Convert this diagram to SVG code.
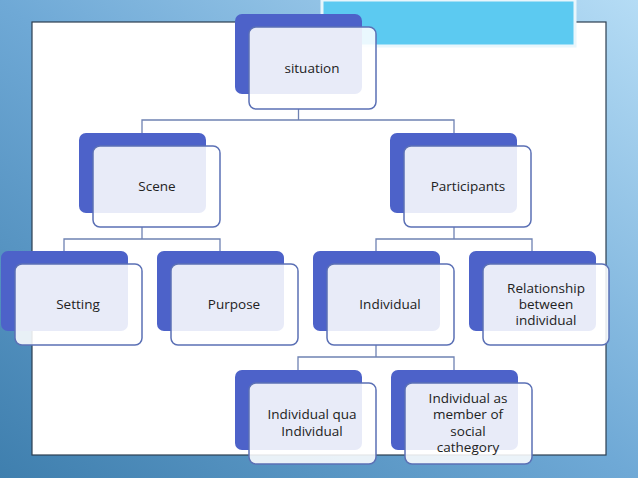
<svg xmlns="http://www.w3.org/2000/svg" width="638" height="478" viewBox="0 0 638 478">
<defs>
<linearGradient id="bg" x1="0" y1="1" x2="1" y2="0">
<stop offset="0" stop-color="#3f7fae"/>
<stop offset="0.5" stop-color="#6fa9d6"/>
<stop offset="1" stop-color="#b5dcf5"/>
</linearGradient>
<style>
.back{fill:#4d62c9}
.front{fill:#ffffff;fill-opacity:0.87;stroke:#5b70b5;stroke-width:1.5}
.t{font-family:"Open Sans","Liberation Sans",sans-serif;font-size:13.5px;fill:#222;text-anchor:middle}
.c{fill:none;stroke:#6f82b3;stroke-width:1.3}
</style>
</defs>
<rect width="638" height="478" fill="url(#bg)"/>
<rect x="32" y="22" width="574" height="433" fill="#fff" stroke="#2c3e50" stroke-width="1.2"/>
<rect x="322" y="0" width="253" height="46" fill="#5ccaf1" stroke="#e8f6fc" stroke-width="3"/>
<g id="connectors" class="c">
<path d="M298.5 109V120M142 133V120H454V133"/>
<path d="M142 227V239M64 251V239H220V251"/>
<path d="M454 227V239M376 251V239H532V251"/>
<path d="M376 345V357M298 370V357H454V370"/>
</g>
<g id="situation"><rect class="back" x="235" y="14" width="127" height="80" rx="7"/><rect class="front" x="249" y="27" width="127" height="82" rx="7"/><text class="t" x="312" y="73">situation</text></g>
<g id="scene"><rect class="back" x="79" y="133" width="127" height="80" rx="7"/><rect class="front" x="93" y="146" width="127" height="81" rx="7"/><text class="t" x="157" y="191">Scene</text></g>
<g id="participants"><rect class="back" x="390" y="133" width="127" height="80" rx="7"/><rect class="front" x="404" y="146" width="127" height="81" rx="7"/><text class="t" x="468" y="191">Participants</text></g>
<g id="setting"><rect class="back" x="1" y="251" width="127" height="80" rx="7"/><rect class="front" x="15" y="264" width="127" height="81" rx="7"/><text class="t" x="78" y="309">Setting</text></g>
<g id="purpose"><rect class="back" x="157" y="251" width="127" height="80" rx="7"/><rect class="front" x="171" y="264" width="127" height="81" rx="7"/><text class="t" x="234" y="309">Purpose</text></g>
<g id="individual"><rect class="back" x="313" y="251" width="127" height="80" rx="7"/><rect class="front" x="327" y="264" width="127" height="81" rx="7"/><text class="t" x="390" y="309">Individual</text></g>
<g id="relationship"><rect class="back" x="469" y="251" width="127" height="80" rx="7"/><rect class="front" x="483" y="264" width="126" height="81" rx="7"/><text class="t" x="546" y="293">Relationship</text><text class="t" x="546" y="309">between</text><text class="t" x="546" y="325">individual</text></g>
<g id="qua"><rect class="back" x="235" y="370" width="127" height="80" rx="7"/><rect class="front" x="249" y="383" width="127" height="81" rx="7"/><text class="t" x="312" y="419">Individual qua</text><text class="t" x="312" y="436">Individual</text></g>
<g id="member"><rect class="back" x="391" y="370" width="127" height="80" rx="7"/><rect class="front" x="405" y="383" width="127" height="81" rx="7"/><text class="t" x="468" y="403">Individual as</text><text class="t" x="468" y="419">member of</text><text class="t" x="468" y="436">social</text><text class="t" x="468" y="452">cathegory</text></g>
</svg>
